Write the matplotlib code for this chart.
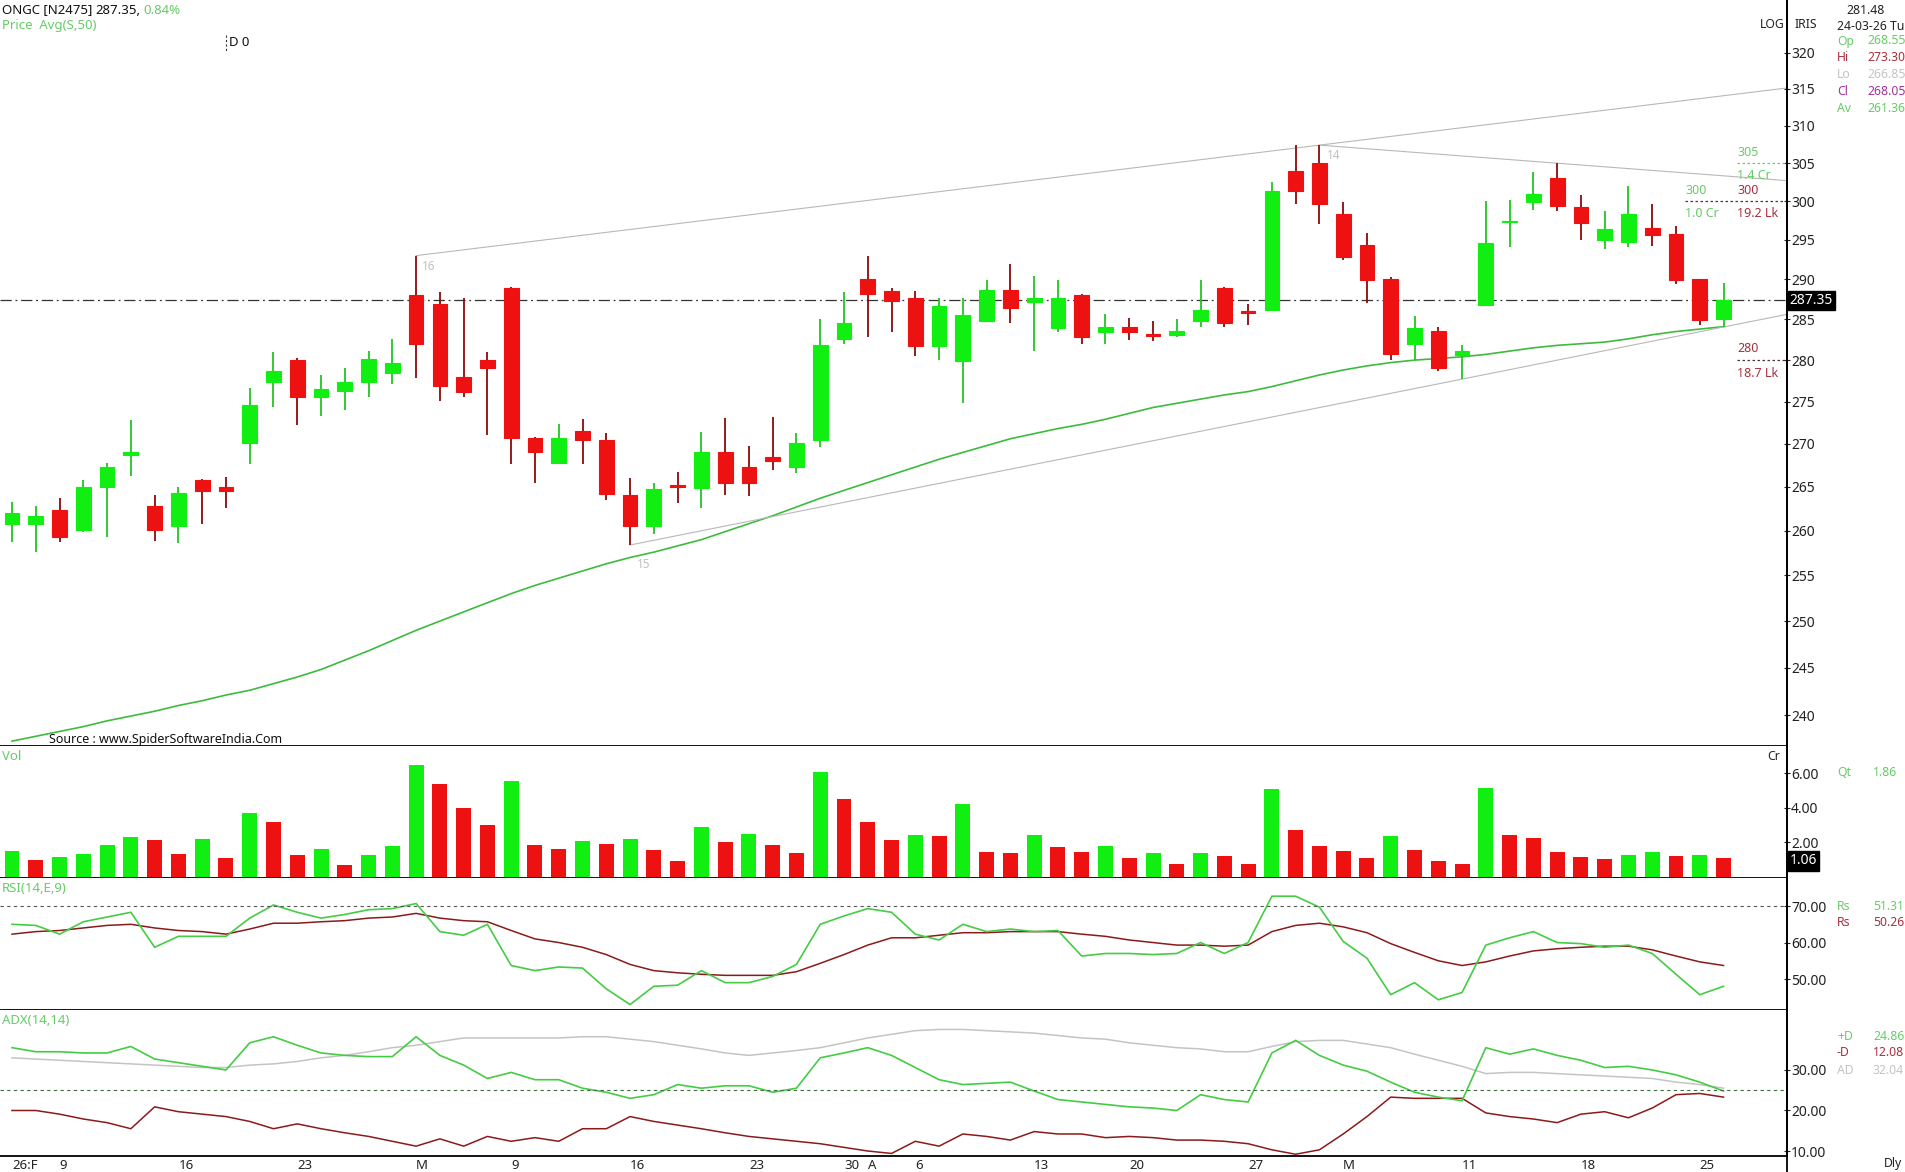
import numpy as np
import matplotlib
matplotlib.use('Agg')
import matplotlib.pyplot as plt
from matplotlib.ticker import FixedLocator, NullLocator, FuncFormatter
from matplotlib.lines import Line2D
import matplotlib.transforms as mtrans

plt.rcParams['font.family'] = ['Noto Sans', 'DejaVu Sans']

# ---------------- data ----------------
opens = [260.8, 260.8, 262.3, 260.1, 265.0, 268.7, 262.8, 260.5, 265.8, 265.0,
         270.1, 277.3, 280.0, 275.5, 276.3, 277.4, 278.4, 288.0, 286.9, 278.0,
         280.0, 288.9, 270.7, 267.8, 271.5, 270.5, 264.1, 260.5, 265.2, 264.9,
         269.0, 267.3, 268.5, 267.3, 270.4, 282.6, 290.0, 288.5, 287.6, 281.7,
         279.9, 284.8, 288.6, 287.1, 283.9, 288.0, 283.4, 284.0, 283.2, 283.1,
         284.8, 288.9, 286.0, 286.1, 304.0, 305.0, 298.4, 294.4, 290.0, 282.0,
         283.6, 280.6, 286.8, 297.3, 299.9, 303.1, 299.3, 295.0, 294.8, 296.6,
         295.8, 290.0, 285.0]
highs = [263.3, 262.8, 263.7, 265.8, 267.8, 272.8, 264.1, 265.0, 265.9, 266.2,
         276.6, 281.0, 280.2, 278.2, 279.0, 281.1, 282.6, 293.0, 288.4, 287.6,
         281.0, 289.0, 270.8, 272.3, 272.9, 271.3, 266.0, 265.5, 266.7, 271.4,
         273.0, 269.7, 273.2, 271.3, 285.0, 288.4, 293.0, 288.9, 288.5, 287.6,
         287.7, 289.9, 291.9, 290.4, 289.9, 288.1, 285.7, 285.2, 284.8, 285.0,
         289.9, 289.0, 286.9, 302.5, 307.4, 307.4, 299.9, 295.9, 290.3, 285.4,
         284.0, 281.9, 300.0, 300.2, 303.8, 305.0, 300.8, 298.7, 302.0, 299.6,
         296.8, 290.1, 289.6]
lows = [258.7, 257.6, 258.7, 259.9, 259.3, 266.3, 258.9, 258.6, 260.8, 262.6,
        267.7, 274.3, 272.2, 273.3, 274.0, 275.6, 277.1, 277.8, 275.1, 275.5,
        271.1, 267.7, 265.5, 267.8, 267.7, 263.5, 258.4, 259.6, 263.2, 262.6,
        264.1, 264.0, 266.9, 266.6, 269.6, 282.0, 282.8, 283.5, 280.5, 280.0,
        274.8, 284.7, 284.5, 281.1, 283.4, 282.0, 282.0, 282.5, 282.3, 282.8,
        284.0, 284.0, 284.3, 286.0, 299.7, 297.0, 292.5, 287.0, 280.0, 280.0,
        278.7, 277.7, 286.6, 294.1, 298.8, 298.7, 295.0, 293.8, 294.1, 294.2,
        289.4, 284.3, 284.0]
closes = [262.0, 261.7, 259.3, 265.0, 267.3, 269.0, 260.1, 264.3, 264.5, 264.5,
          274.6, 278.7, 275.5, 276.5, 277.4, 280.1, 279.7, 282.0, 276.9, 276.2,
          279.0, 270.7, 269.1, 270.7, 270.5, 264.2, 260.5, 264.8, 265.0, 269.1,
          265.5, 265.5, 268.0, 270.1, 281.8, 284.6, 288.1, 287.3, 281.7, 286.6,
          285.5, 288.6, 286.4, 287.6, 287.6, 282.8, 284.0, 283.4, 283.0, 283.6,
          286.2, 284.6, 285.8, 301.3, 301.3, 299.6, 292.8, 289.9, 280.7, 283.9,
          279.1, 281.1, 294.6, 297.5, 300.9, 299.4, 297.2, 296.4, 298.4, 295.6,
          289.9, 284.9, 287.35]
ma50 = [237.3, 237.8, 238.3, 238.8, 239.4, 239.9, 240.4, 241.0, 241.5, 242.1,
        242.6, 243.3, 244.0, 244.8, 245.8, 246.8, 247.9, 249.0, 250.0, 251.0,
        252.0, 253.0, 253.9, 254.7, 255.5, 256.3, 257.0, 257.6, 258.3, 259.0,
        259.9, 260.8, 261.7, 262.7, 263.7, 264.6, 265.5, 266.4, 267.3, 268.2,
        269.0, 269.8, 270.6, 271.2, 271.8, 272.3, 272.9, 273.6, 274.3, 274.8,
        275.3, 275.8, 276.2, 276.8, 277.5, 278.2, 278.8, 279.3, 279.7, 280.0,
        280.2, 280.4, 280.7, 281.1, 281.5, 281.8, 282.0, 282.2, 282.6, 283.1,
        283.5, 283.8, 284.1]
volume_cr = [1.50, 0.98, 1.12, 1.33, 1.85, 2.31, 2.10, 1.33, 2.16, 1.10,
             3.70, 3.14, 1.27, 1.58, 0.69, 1.27, 1.79, 6.48, 5.34, 3.99,
             3.01, 5.55, 1.83, 1.62, 2.05, 1.90, 2.19, 1.55, 0.92, 2.89,
             1.98, 2.47, 1.83, 1.34, 6.06, 4.51, 3.17, 2.12, 2.40, 2.33,
             4.23, 1.41, 1.34, 2.40, 1.69, 1.41, 1.76, 1.06, 1.34, 0.71,
             1.34, 1.20, 0.71, 5.08, 2.68, 1.76, 1.48, 1.06, 2.33, 1.55,
             0.92, 0.71, 5.15, 2.40, 2.26, 1.41, 1.13, 0.99, 1.27, 1.41,
             1.20, 1.27, 1.06]
rsi = [65.0, 64.7, 62.3, 65.7, 67.0, 68.3, 58.7, 61.7, 61.7, 61.7,
       66.7, 70.3, 68.3, 66.7, 67.7, 69.0, 69.3, 70.7, 63.0, 62.0,
       65.0, 53.7, 52.3, 53.3, 53.0, 47.3, 43.0, 48.0, 48.3, 52.3,
       49.0, 49.0, 50.7, 54.0, 65.0, 67.3, 69.3, 68.3, 62.3, 60.7,
       65.0, 63.0, 63.7, 63.0, 63.3, 56.3, 57.0, 57.0, 56.7, 57.0,
       60.0, 57.0, 60.0, 72.7, 72.7, 69.7, 60.3, 55.7, 45.7, 49.0,
       44.3, 46.3, 59.3, 61.3, 63.0, 60.0, 59.7, 58.7, 59.3, 57.0,
       51.3, 45.7, 48.0]
rsi_signal = [62.3, 63.0, 63.3, 64.0, 64.7, 65.0, 64.0, 63.3, 63.0, 62.3,
              63.7, 65.3, 65.3, 65.7, 66.0, 66.7, 67.0, 68.0, 66.7, 66.0,
              65.7, 63.3, 61.0, 60.0, 58.7, 56.7, 54.0, 52.3, 51.7, 51.3,
              51.0, 51.0, 51.0, 52.0, 54.3, 56.7, 59.3, 61.3, 61.3, 62.0,
              62.7, 62.7, 63.0, 63.0, 63.0, 62.3, 61.7, 60.7, 60.0, 59.3,
              59.3, 59.0, 59.3, 63.0, 64.7, 65.3, 64.3, 62.7, 59.7, 57.3,
              55.0, 53.7, 54.7, 56.3, 57.7, 58.3, 58.7, 59.0, 59.0, 58.0,
              56.3, 54.7, 53.7]
plus_di = [35.5, 34.5, 34.5, 34.2, 34.2, 35.8, 32.7, 31.8, 30.9, 30.0,
           36.7, 38.2, 36.1, 34.2, 33.6, 33.3, 33.3, 38.2, 33.6, 31.2,
           27.9, 29.4, 27.6, 27.6, 25.5, 24.5, 23.0, 23.9, 26.4, 25.5,
           26.1, 26.1, 24.5, 25.5, 33.0, 34.2, 35.5, 33.6, 30.6, 27.6,
           26.4, 26.7, 27.0, 24.8, 22.7, 22.1, 21.5, 20.9, 20.6, 20.0,
           23.9, 22.7, 22.1, 34.2, 37.3, 33.6, 31.2, 29.7, 27.0, 24.5,
           23.3, 22.4, 35.5, 33.9, 35.2, 33.6, 32.4, 30.6, 30.9, 30.0,
           28.8, 27.0, 24.8]
minus_di = [20.0, 20.0, 19.1, 17.9, 17.0, 15.5, 20.9, 19.7, 19.1, 18.5,
            17.3, 15.5, 16.7, 15.5, 14.5, 13.6, 12.4, 11.2, 13.0, 11.2,
            13.6, 12.4, 13.3, 12.4, 15.5, 15.5, 18.5, 17.3, 16.4, 15.5,
            14.5, 13.6, 13.0, 12.4, 11.8, 10.9, 10.0, 9.4, 12.4, 11.2,
            14.2, 13.6, 12.7, 14.8, 14.2, 14.2, 13.3, 13.6, 13.3, 12.7,
            12.7, 12.4, 11.8, 10.3, 9.2, 10.3, 14.2, 18.5, 23.3, 23.0,
            23.0, 23.0, 19.4, 18.5, 17.9, 17.0, 19.1, 19.7, 18.2, 20.6,
            23.9, 24.2, 23.3]
adx = [33.0, 32.7, 32.4, 32.1, 31.8, 31.5, 31.2, 30.9, 30.6, 30.6,
       31.2, 31.5, 32.1, 33.0, 33.6, 34.5, 35.5, 36.1, 37.0, 37.9,
       37.9, 37.9, 37.9, 37.9, 38.2, 38.2, 37.6, 37.0, 36.1, 35.2,
       34.2, 33.6, 34.2, 34.8, 35.5, 36.7, 37.9, 38.8, 39.7, 40.0,
       40.0, 39.7, 39.4, 39.1, 38.5, 37.9, 37.6, 36.7, 36.1, 35.5,
       35.2, 34.5, 34.5, 35.8, 37.0, 37.3, 37.3, 36.4, 35.5, 33.9,
       32.4, 30.9, 29.1, 29.4, 29.4, 29.1, 28.8, 28.5, 28.2, 27.9,
       27.0, 26.4, 25.5]
xtick_idx = [0, 2, 7, 12, 17, 21, 26, 31, 35, 36, 38, 43, 47, 52, 56, 61, 66, 71]
xtick_labels = ['26:F', '9', '16', '23', 'M', '9', '16', '23', '30', 'A', '6',
                '13', '20', '27', 'M', '11', '18', '25']
price_ticks = [240, 245, 250, 255, 260, 265, 270, 275, 280, 285, 290, 295,
               300, 305, 310, 315, 320]
last_price = 287.35

# ---------------- styling ----------------
W, H = 1906, 1172
AXR = 1787
GREEN = '#11ee11'
RED = '#ee1111'
GWICK = '#22c522'
RWICK = '#8b0a0a'
TXT_G = '#66cc66'
TXT_R = '#a8303c'
XL = (-0.505, 74.67)

fig = plt.figure(figsize=(W / 100, H / 100), dpi=100)
fig.patch.set_facecolor('white')


def rect(top, bottom):
    return [0, 1 - bottom / H, AXR / W, (bottom - top) / H]


def T(x, y, s, **kw):
    kw.setdefault('va', 'center')
    kw.setdefault('fontsize', 9.5)
    fig.text(x / W, 1 - y / H, s, **kw)


ax_p = fig.add_axes(rect(0, 746))
ax_v = fig.add_axes(rect(746, 878))
ax_r = fig.add_axes(rect(878, 1010))
ax_a = fig.add_axes(rect(1010, 1156))

for ax in (ax_p, ax_v, ax_r, ax_a):
    ax.set_xlim(*XL)
    ax.set_facecolor('white')
    for s in ('top', 'left'):
        ax.spines[s].set_visible(False)
    ax.spines['right'].set_color('black')
    ax.spines['right'].set_linewidth(1.3)
    ax.spines['bottom'].set_color('black')
    ax.spines['bottom'].set_linewidth(1.3)
    ax.yaxis.tick_right()
    ax.tick_params(axis='y', direction='inout', length=4, width=0.8,
                   labelsize=10, pad=1, colors='#222222')
    ax.tick_params(axis='x', length=0)
    ax.set_xticks([])

x = np.arange(len(opens))
O = np.array(opens); Hh = np.array(highs); L = np.array(lows); C = np.array(closes)
up = C >= O

# ---------------- price panel ----------------
ax_p.set_yscale('log')
ax_p.set_ylim(236.8, 327.4)
ax_p.yaxis.set_major_locator(FixedLocator(price_ticks))
ax_p.yaxis.set_minor_locator(NullLocator())
ax_p.yaxis.set_major_formatter(FuncFormatter(lambda v, p: f'{v:.0f}'))

ax_p.plot(x, ma50, color='#3dbb3d', lw=1.2, zorder=1)


def tline(i0, p0, i1, p1, i_end):
    xs = np.array([i0, i_end])
    slope = (np.log(p1) - np.log(p0)) / (i1 - i0)
    ys = np.exp(np.log(p0) + slope * (xs - i0))
    ax_p.plot(xs, ys, color='#b8b8b8', lw=0.8, zorder=1)


tline(17, highs[17], 55, highs[55], XL[1])
tline(26, lows[26], 61, lows[61], XL[1])
tline(55, highs[55], 65, highs[65], 74.6)

ax_p.axhline(last_price, color='#333333', lw=0.9, ls=(0, (9, 3, 1.5, 3)), zorder=1)

ax_p.vlines(x, L, Hh, colors=np.where(up, GWICK, RWICK), lw=1.3, zorder=2)
ax_p.bar(x, np.abs(C - O), bottom=np.minimum(O, C), width=0.62,
         color=np.where(up, GREEN, RED), edgecolor=np.where(up, GREEN, RED),
         linewidth=0.8, zorder=3)

ax_p.text(17.25, highs[17] - 0.6, '16', color='#c0c0c0', fontsize=8.5, va='top')
ax_p.text(26.3, lows[26] - 1.4, '15', color='#c0c0c0', fontsize=8.5, va='top')
ax_p.text(55.3, highs[55] - 0.5, '14', color='#c0c0c0', fontsize=8.5, va='top')

# volume-at-price markers
ax_p.plot([72.57, XL[1]], [305, 305], color=TXT_G, lw=0.9, ls=(0, (2, 2)))
ax_p.plot([70.4, XL[1]], [300, 300], color='#553333', lw=0.9, ls=(0, (2, 2)))
ax_p.plot([72.57, XL[1]], [280, 280], color='#553333', lw=0.9, ls=(0, (2, 2)))
ax_p.text(72.57, 305.6, '305', color=TXT_G, fontsize=9, va='bottom')
ax_p.text(72.57, 304.2, '1.4 Cr', color=TXT_G, fontsize=9, va='top')
ax_p.text(70.4, 300.6, '300', color=TXT_G, fontsize=9, va='bottom')
ax_p.text(70.4, 299.2, '1.0 Cr', color=TXT_G, fontsize=9, va='top')
ax_p.text(72.57, 300.6, '300', color=TXT_R, fontsize=9, va='bottom')
ax_p.text(72.57, 299.2, '19.2 Lk', color=TXT_R, fontsize=9, va='top')
ax_p.text(72.57, 280.6, '280', color=TXT_R, fontsize=9, va='bottom')
ax_p.text(72.57, 279.2, '18.7 Lk', color=TXT_R, fontsize=9, va='top')

bt = mtrans.blended_transform_factory(ax_p.transAxes, ax_p.transData)
ax_p.text(1.0015, last_price, f'{last_price:.2f}', transform=bt, color='white',
          fontsize=10, va='center', ha='left',
          bbox=dict(facecolor='black', edgecolor='black', pad=1.5))

# ---------------- volume panel ----------------
vol = np.array(volume_cr)
vup = np.concatenate([[True], vol[1:] >= vol[:-1]])
ax_v.bar(x, vol, width=0.63, color=np.where(vup, GREEN, RED), zorder=2)
ax_v.set_ylim(-0.087, 7.57)
ax_v.yaxis.set_major_locator(FixedLocator([2, 4, 6]))
ax_v.yaxis.set_major_formatter(FuncFormatter(lambda v, p: f'{v:.2f}'))

# ---------------- RSI panel ----------------
ax_r.plot(x, rsi_signal, color='#8b1a1a', lw=1.1)
ax_r.plot(x, rsi, color='#44cc44', lw=1.2)
ax_r.axhline(70, color='#555555', lw=0.8, ls=(0, (3, 3)))
ax_r.set_ylim(41.5, 77.7)
ax_r.yaxis.set_major_locator(FixedLocator([50, 60, 70]))
ax_r.yaxis.set_major_formatter(FuncFormatter(lambda v, p: f'{v:.2f}'))

# ---------------- ADX panel ----------------
ax_a.plot(x, adx, color='#c4c4c4', lw=1.1)
ax_a.plot(x, minus_di, color='#8b1a1a', lw=1.1)
ax_a.plot(x, plus_di, color='#44cc44', lw=1.2)
ax_a.axhline(25, color='#3c6e3c', lw=0.8, ls=(0, (3, 3)))
ax_a.set_ylim(8.77, 44.8)
ax_a.yaxis.set_major_locator(FixedLocator([10, 20, 30]))
ax_a.yaxis.set_major_formatter(FuncFormatter(lambda v, p: f'{v:.2f}'))
ax_a.set_xticks(xtick_idx)
ax_a.set_xticklabels(xtick_labels, ha='left', fontsize=9.5, color='#222222')
ax_a.tick_params(axis='x', length=0, pad=2)

# right axis line through the date row
fig.add_artist(Line2D([AXR / W, AXR / W], [0, 1], color='black', lw=1.3,
                      transform=fig.transFigure))

# ---------------- texts ----------------
T(2, 10, 'ONGC [N2475]', color='#111111')
T(95, 10, '287.35,', color='#111111')
T(143, 10, '0.84%', color=TXT_G)
T(2, 26, 'Price  Avg(S,50)', color=TXT_G)
T(229, 43, 'D 0', color='#111111')
fig.add_artist(Line2D([226 / W, 226 / W], [1 - 35 / H, 1 - 51 / H], color='#333333',
                      lw=0.8, ls=(0, (2, 2)), transform=fig.transFigure))
T(49, 739, 'Source : www.SpiderSoftwareIndia.Com', color='#111111', fontsize=9)

RF = 8.8
T(1760, 25, 'LOG', color='#222222', fontsize=RF)
T(1795, 25, 'IRIS', color='#222222', fontsize=RF)
T(1846, 11, '281.48', color='#222222', fontsize=RF)
T(1837, 27, '24-03-26 Tu', color='#222222', fontsize=RF)
rows = [('Op', '268.55', TXT_G), ('Hi', '273.30', TXT_R), ('Lo', '266.85', '#c4c4c4'),
        ('Cl', '268.05', '#a0309c'), ('Av', '261.36', TXT_G)]
for k, (a, b, c) in enumerate(rows):
    yy = 41 + k * 16.8
    T(1837, yy, a, color=c, fontsize=RF)
    T(1867, yy, b, color=c, fontsize=RF)

T(2, 757, 'Vol', color=TXT_G)
T(1767, 757, 'Cr', color='#222222', fontsize=RF)
T(1837, 773, 'Qt', color=TXT_G, fontsize=RF)
T(1873, 773, '1.86', color=TXT_G, fontsize=RF)
T(1790, 861, '1.06', color='white', fontsize=10,
  bbox=dict(facecolor='black', edgecolor='black', pad=1.5))

T(2, 889, 'RSI(14,E,9)', color=TXT_G)
T(1837, 906, 'Rs', color=TXT_G, fontsize=RF)
T(1873, 906, '51.31', color=TXT_G, fontsize=RF)
T(1837, 922, 'Rs', color=TXT_R, fontsize=RF)
T(1873, 922, '50.26', color=TXT_R, fontsize=RF)

T(2, 1021, 'ADX(14,14)', color=TXT_G)
T(1837, 1037, '+D', color=TXT_G, fontsize=RF)
T(1873, 1037, '24.86', color=TXT_G, fontsize=RF)
T(1837, 1053, '-D', color=TXT_R, fontsize=RF)
T(1873, 1053, '12.08', color=TXT_R, fontsize=RF)
T(1837, 1070, 'AD', color='#c4c4c4', fontsize=RF)
T(1873, 1070, '32.04', color='#c4c4c4', fontsize=RF)
T(1884, 1163, 'Dly', color='#222222', fontsize=RF)

fig.savefig('out.png', dpi=100, facecolor='white')
